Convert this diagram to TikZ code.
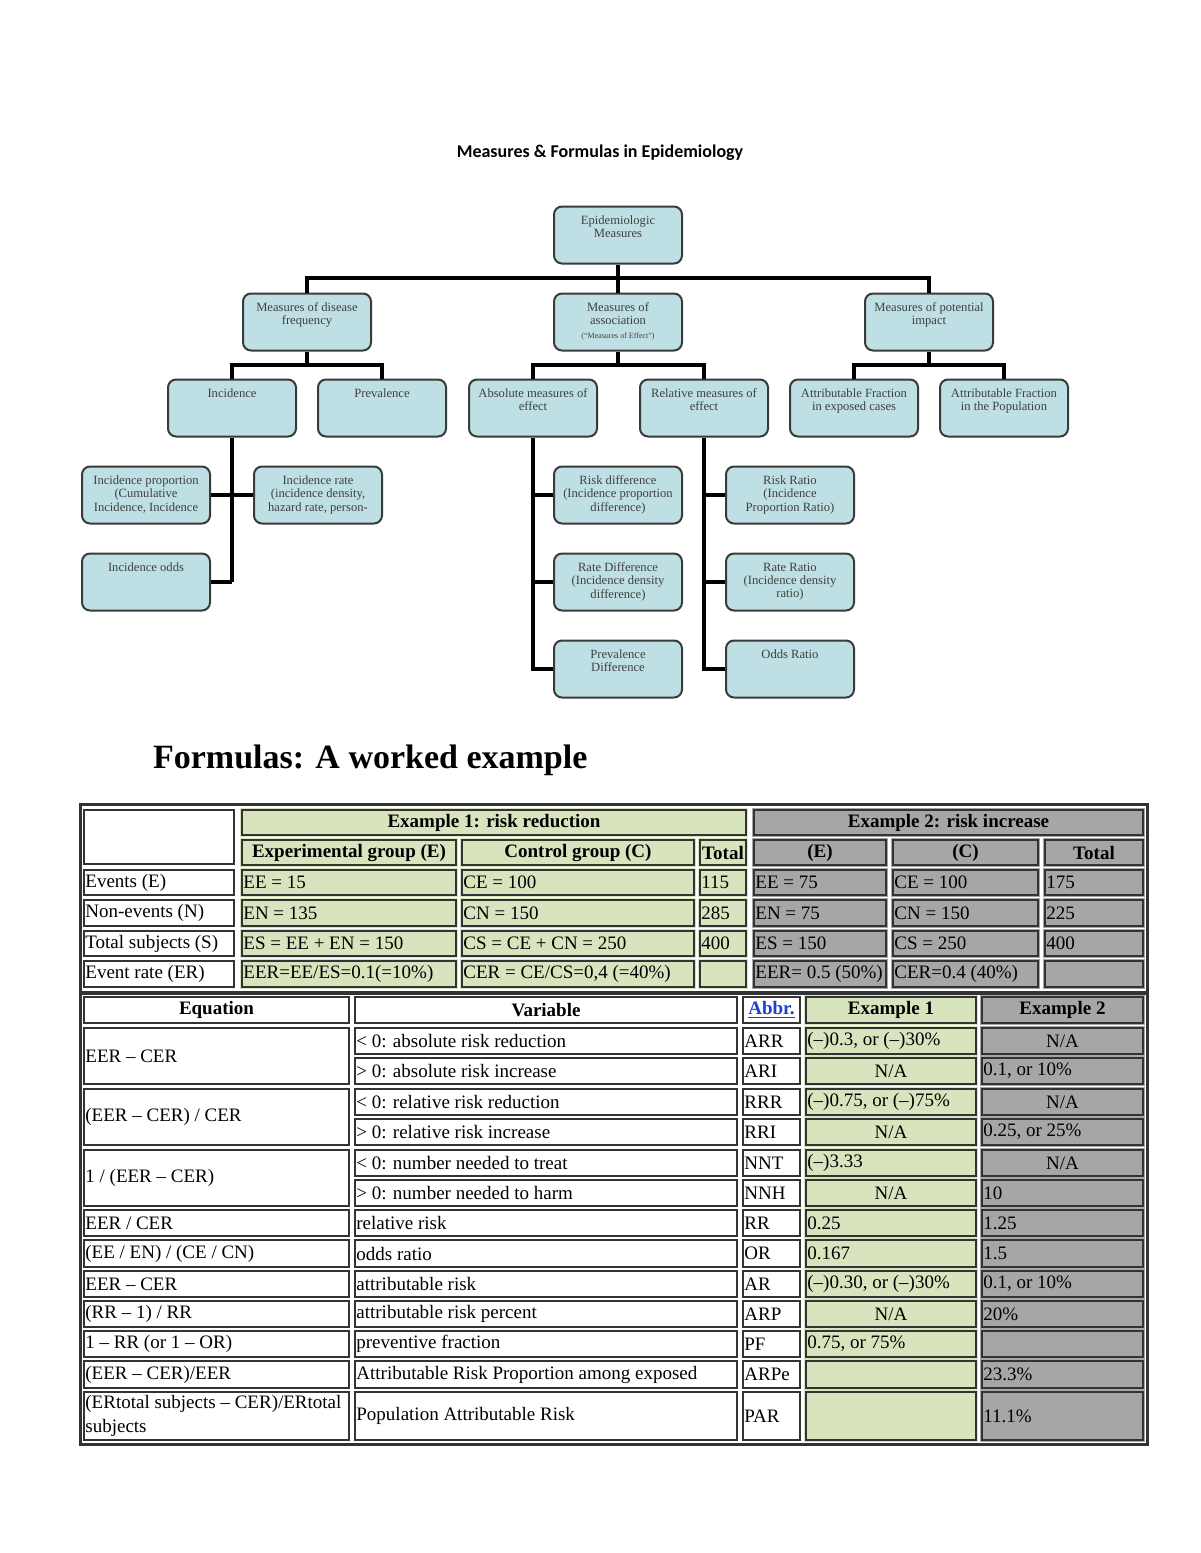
\documentclass[tikz,border=0pt]{standalone}
\usepackage{fontspec}
\setmainfont{Liberation Serif}
\newfontfamily\titlefont{Carlito}
\definecolor{boxfill}{HTML}{BEDFE3}
\definecolor{boxline}{HTML}{3A3A3A}
\definecolor{gr}{HTML}{D7E4BD}
\definecolor{gy}{HTML}{A6A6A6}
\definecolor{lnk}{HTML}{1F3FD0}
\newcommand\lc[6]{\fill[#5] (#1,#2) rectangle (#3,#4);\draw[cellb] (#1+2,#2+2) rectangle (#3-2,#4-2);\node[cellt,anchor=west] at (#1+3,{(#2+#4)/2}) {#6};}
\newcommand\cc[6]{\fill[#5] (#1,#2) rectangle (#3,#4);\draw[cellb] (#1+2,#2+2) rectangle (#3-2,#4-2);\node[cellt,anchor=center] at ({(#1+#3)/2},{(#2+#4)/2}) {#6};}
\begin{document}
\begin{tikzpicture}[x=0.5pt,y=-0.5pt,
 tbox/.style={draw=boxline,line width=1pt,fill=boxfill,rounded corners=4pt,minimum width=64pt,minimum height=28.5pt,inner sep=0pt},
 ttext/.style={anchor=north,align=center,font=\fontsize{6.3}{6.6}\selectfont,text=black!75,inner sep=0pt},
 conn/.style={line width=2pt},
 cellb/.style={draw=black!80,line width=0.8pt},
 cellt/.style={font=\fontsize{9.5}{10}\selectfont,inner sep=0pt}]
\useasboundingbox (0,0) rectangle (1200,1553);
\node[font=\titlefont\bfseries\fontsize{9}{10}\selectfont] (title) at (600,153) {Measures \& Formulas in Epidemiology};
% tree
\newcommand\tn[4]{\node[tbox] (#1) at (#2,#3) {};\node[ttext] at ([yshift=-5pt]#1.north) {#4};}
\tn{epi}{618}{235}{Epidemiologic\\Measures}
\tn{freq}{307}{322}{Measures of disease\\frequency}
\node[tbox] (assoc) at (618,322) {};\node[ttext] at ([yshift=-5pt]assoc.north) {Measures of\\association\\{\fontsize{4}{5}\selectfont(``Measures of Effect'')}};
\tn{imp}{929}{322}{Measures of potential\\impact}
\tn{inc}{232}{408}{Incidence}
\tn{prev}{382}{408}{Prevalence}
\tn{abs}{533}{408}{Absolute measures of\\effect}
\tn{rel}{704}{408}{Relative measures of\\effect}
\tn{afe}{854}{408}{Attributable Fraction\\in exposed cases}
\tn{afp}{1004}{408}{Attributable Fraction\\in the Population}
\tn{ip}{146}{495}{Incidence proportion\\(Cumulative\\Incidence, Incidence}
\tn{ir}{318}{495}{Incidence rate\\(incidence density,\\hazard rate, person-}
\tn{io}{146}{582}{Incidence odds}
\tn{rd}{618}{495}{Risk difference\\(Incidence proportion\\difference)}
\tn{rtd}{618}{582}{Rate Difference\\(Incidence density\\difference)}
\tn{pd}{618}{669}{Prevalence\\Difference}
\tn{rr}{790}{495}{Risk Ratio\\(Incidence\\Proportion Ratio)}
\tn{rtr}{790}{582}{Rate Ratio\\(Incidence density\\ratio)}
\tn{or}{790}{669}{Odds Ratio}
\draw[conn] (epi.south) -- (618,278);
\draw[conn] (freq.north) |- (618,278) -| (imp.north);
\draw[conn] (618,278) -- (assoc.north);
\draw[conn] (freq.south) -- (307,365);
\draw[conn] (inc.north) |- (307,365) -| (prev.north);
\draw[conn] (assoc.south) -- (618,365);
\draw[conn] (abs.north) |- (618,365) -| (rel.north);
\draw[conn] (imp.south) -- (929,365);
\draw[conn] (afe.north) |- (929,365) -| (afp.north);
\draw[conn] (inc.south) -- (232,582);
\draw[conn] (ip.east) -- (ir.west);
\draw[conn] (io.east) -- (232,582);
\draw[conn] (abs.south) |- (pd.west);
\draw[conn] (533,495) -- (rd.west);
\draw[conn] (533,582) -- (rtd.west);
\draw[conn] (rel.south) |- (or.west);
\draw[conn] (704,495) -- (rr.west);
\draw[conn] (704,582) -- (rtr.west);
\node[anchor=west,font=\bfseries\fontsize{17}{18}\selectfont] (ftitle) at (146,760) {Formulas: A worked example};
% table 1
\draw[line width=1.5pt,draw=black!80] (80,804) rectangle (1147,992);
\fill[white] (82,808) rectangle (236,866);\draw[cellb] (84,810) rectangle (234,864);
\cc{240}{808}{748}{837}{gr}{\bfseries Example 1: risk reduction}
\cc{752}{808}{1145}{837}{gy}{\bfseries Example 2: risk increase}
\cc{240}{838}{458}{867}{gr}{\bfseries Experimental group (E)}
\cc{460}{838}{696}{867}{gr}{\bfseries Control group (C)}
\cc{698}{838}{748}{867}{gr}{\bfseries Total}
\cc{752}{838}{888}{867}{gy}{\bfseries (E)}
\cc{891}{838}{1040}{867}{gy}{\bfseries (C)}
\cc{1043}{838}{1145}{867}{gy}{\bfseries Total}
\newcommand\trow[9]{%
\lc{82}{#1}{236}{#2}{white}{#3}\lc{240}{#1}{458}{#2}{gr}{#4}\lc{460}{#1}{696}{#2}{gr}{#5}\lc{698}{#1}{748}{#2}{gr}{#6}%
\lc{752}{#1}{888}{#2}{gy}{#7}\lc{891}{#1}{1040}{#2}{gy}{#8}\lc{1043}{#1}{1145}{#2}{gy}{#9}}
\trow{868}{897}{Events (E)}{EE = 15}{CE = 100}{115}{EE = 75}{CE = 100}{175}
\trow{898}{928}{Non-events (N)}{EN = 135}{CN = 150}{285}{EN = 75}{CN = 150}{225}
\trow{929}{958}{Total subjects (S)}{ES = EE + EN = 150}{CS = CE + CN = 250}{400}{ES = 150}{CS = 250}{400}
\trow{959}{989}{Event rate (ER)}{EER=EE/ES=0.1(=10\%)}{CER = CE/CS=0,4 (=40\%)}{}{EER= 0.5 (50\%)}{CER=0.4 (40\%)}{}
% table 2
\draw[line width=1.5pt,draw=black!80] (80,993) rectangle (1147,1444);
\cc{82}{995}{351}{1025}{white}{\bfseries Equation}
\cc{353}{995}{739}{1025}{white}{\bfseries Variable}
\cc{741}{995}{802}{1025}{white}{\bfseries\color{lnk}\underline{Abbr.}}
\cc{804}{995}{978}{1025}{gr}{\bfseries Example 1}
\cc{980}{995}{1145}{1025}{gy}{\bfseries Example 2}
\newcommand\vrow[8]{% y1 y2 var abbr ex1 ex1align ex2 ex2align
\lc{353}{#1}{739}{#2}{white}{#3}\lc{741}{#1}{802}{#2}{white}{#4}%
\csname #6\endcsname{804}{#1}{978}{#2}{gr}{#5}\csname #8\endcsname{980}{#1}{1145}{#2}{gy}{#7}}
\lc{82}{1026}{351}{1086}{white}{EER -- CER}
\vrow{1026}{1056}{< 0: absolute risk reduction}{ARR}{(--)0.3, or (--)30\%}{lc}{N/A}{cc}
\vrow{1056}{1086}{> 0: absolute risk increase}{ARI}{N/A}{cc}{0.1, or 10\%}{lc}
\lc{82}{1087}{351}{1147}{white}{(EER -- CER) / CER}
\vrow{1087}{1117}{< 0: relative risk reduction}{RRR}{(--)0.75, or (--)75\%}{lc}{N/A}{cc}
\vrow{1117}{1147}{> 0: relative risk increase}{RRI}{N/A}{cc}{0.25, or 25\%}{lc}
\lc{82}{1148}{351}{1208}{white}{1 / (EER -- CER)}
\vrow{1148}{1178}{< 0: number needed to treat}{NNT}{(--)3.33}{lc}{N/A}{cc}
\vrow{1178}{1208}{> 0: number needed to harm}{NNH}{N/A}{cc}{10}{lc}
\newcommand\frow[7]{\lc{82}{#1}{351}{#2}{white}{#3}\vrow{#1}{#2}{#4}{#5}{#6}{lc}{#7}{lc}}
\frow{1208}{1238}{EER / CER}{relative risk}{RR}{0.25}{1.25}
\frow{1238}{1269}{(EE / EN) / (CE / CN)}{odds ratio}{OR}{0.167}{1.5}
\frow{1269}{1299}{EER -- CER}{attributable risk}{AR}{(--)0.30, or (--)30\%}{0.1, or 10\%}
\lc{82}{1299}{351}{1329}{white}{(RR -- 1) / RR}
\vrow{1299}{1329}{attributable risk percent}{ARP}{N/A}{cc}{20\%}{lc}
\frow{1329}{1359}{1 -- RR (or 1 -- OR)}{preventive fraction}{PF}{0.75, or 75\%}{}
\frow{1359}{1390}{(EER -- CER)/EER}{Attributable Risk Proportion among exposed}{ARPe}{}{23.3\%}
\frow{1390}{1442}{\parbox{128pt}{\fontsize{9.5}{12}\selectfont (ERtotal subjects -- CER)/ERtotal subjects}}{Population Attributable Risk}{PAR}{}{11.1\%}
\end{tikzpicture}
\end{document}
